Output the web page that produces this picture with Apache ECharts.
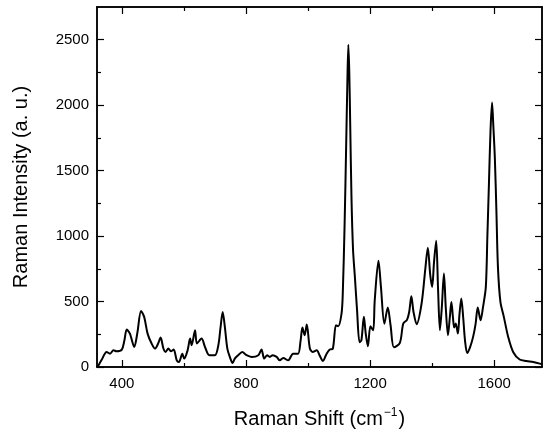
<!DOCTYPE html>
<html>
<head>
<meta charset="utf-8">
<script src="https://cdn.jsdelivr.net/npm/echarts@6/dist/echarts.min.js"></script>
<style>
html,body{margin:0;padding:0;background:#fff;}
#c{width:550px;height:439px;}
</style>
</head>
<body>
<div id="c"></div>
<script>
const ramanShift = [322,335,351,362,373,383,400,408,416,426,440,450,462,472,483,496,507,517,525,534,541,550,558,567,577,584,595,601,612,620,625,636,642,657,668,682,700,711,718,725,732,740,748,757,764,775,788,802,818,840,850,859,868,877,886,899,909,920,936,952,968,976,982,989,996,1006,1015,1028,1038,1048,1060,1070,1080,1090,1097,1108,1112,1118,1123,1127,1130,1133,1136,1140,1145,1151,1158,1166,1172,1180,1186,1193,1201,1210,1215,1227,1235,1246,1257,1266,1277,1296,1307,1319,1326,1333,1340,1350,1366,1378,1386,1394,1400,1406,1413,1419,1425,1431,1438,1444,1451,1457,1462,1467,1471,1476,1483,1488,1494,1500,1506,1513,1522,1532,1540,1547,1556,1564,1573,1578,1583,1588,1593,1597,1602,1607,1612,1620,1631,1645,1661,1682,1704,1726,1747,1754];
const intensity = [0,55,115,102,128,120,133,200,286,255,153,260,428,383,255,179,141,179,225,141,115,141,120,133,51,38,102,64,128,217,166,281,179,217,153,90,90,166,300,421,306,141,77,31,64,90,115,90,77,90,133,64,90,77,90,77,51,69,51,102,102,200,301,243,324,141,115,128,85,46,102,133,140,319,311,408,560,1100,1700,2200,2461,2250,1850,1300,900,689,434,190,204,383,255,158,311,280,510,811,612,330,455,319,150,185,332,360,420,540,420,327,485,750,911,700,612,800,964,600,281,450,714,450,243,380,497,380,301,332,255,400,523,380,200,107,150,230,330,454,357,459,612,1000,1400,1800,2020,1850,1600,1200,765,497,383,230,115,57,46,38,26,20];
const xMajorTicks = [400, 800, 1200, 1600];
const xMinorTicks = [600, 1000, 1400];
const yMajorTicks = [0, 500, 1000, 1500, 2000, 2500];
const yMinorTicks = [250, 750, 1250, 1750, 2250];
const xRange = [320, 1754];
const yRange = [0, 2750];

const FONT = 'Liberation Sans, Arial, sans-serif';
const data = ramanShift.map((x, i) => [x, intensity[i]]);
const plain = v => String(v);

function xAx(pos, ticks, len, labels, extra) {
  return Object.assign({
    type: 'value', position: pos, min: xRange[0], max: xRange[1],
    axisLine: { show: true, onZero: false, lineStyle: { color: '#000', width: 1.5 } },
    axisTick: { show: true, inside: true, length: len, customValues: ticks, lineStyle: { color: '#000', width: 1.2 } },
    axisLabel: labels ? { show: true, customValues: ticks, formatter: plain, fontFamily: FONT, fontSize: 15, color: '#000', margin: 9 } : { show: false },
    splitLine: { show: false }
  }, extra || {});
}
function yAx(pos, ticks, len, labels, extra) {
  return Object.assign({
    type: 'value', position: pos, min: yRange[0], max: yRange[1],
    axisLine: { show: true, onZero: false, lineStyle: { color: '#000', width: 1.5 } },
    axisTick: { show: true, inside: true, length: len, customValues: ticks, lineStyle: { color: '#000', width: 1.2 } },
    axisLabel: labels ? { show: true, customValues: ticks, formatter: plain, fontFamily: FONT, fontSize: 15, color: '#000', margin: 8 } : { show: false },
    splitLine: { show: false }
  }, extra || {});
}

const chart = echarts.init(document.getElementById('c'), null, { renderer: 'canvas' });
chart.setOption({
  animation: false,
  backgroundColor: '#fff',
  grid: { left: 97, right: 8, top: 7, bottom: 72, containLabel: false },
  xAxis: [
    xAx('bottom', xMajorTicks, 7, true, {
      name: '{a|Raman Shift (cm}{s|−1}{a|)}',
      nameLocation: 'middle', nameGap: 40,
      nameTextStyle: {
        rich: {
          a: { fontFamily: FONT, fontSize: 20, color: '#000' },
          s: { fontFamily: FONT, fontSize: 12, color: '#000', padding: [0, 1, 12, 1] }
        }
      }
    }),
    xAx('bottom', xMinorTicks, 4, false),
    xAx('top', xMajorTicks, 7, false),
    xAx('top', xMinorTicks, 4, false)
  ],
  yAxis: [
    yAx('left', yMajorTicks, 7, true, {
      name: 'Raman Intensity (a. u.)',
      nameLocation: 'middle', nameGap: 66, nameRotate: 90,
      nameTextStyle: { fontFamily: FONT, fontSize: 20, color: '#000' }
    }),
    yAx('left', yMinorTicks, 4, false),
    yAx('right', yMajorTicks, 7, false),
    yAx('right', yMinorTicks, 4, false)
  ],
  series: [{
    type: 'line',
    data: data,
    xAxisIndex: 0, yAxisIndex: 0,
    showSymbol: false,
    smooth: 0.3,
    lineStyle: { color: '#000', width: 2 },
    clip: true
  }]
});
</script>
</body>
</html>
